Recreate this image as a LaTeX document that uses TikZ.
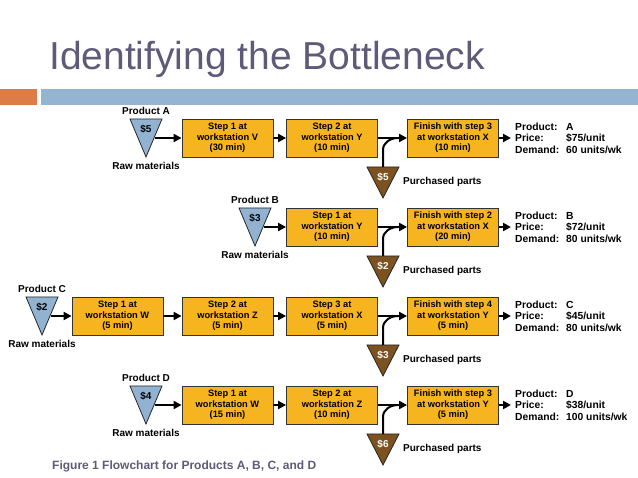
\documentclass[tikz,border=0pt]{standalone}
\usepackage{fontspec}
\setmainfont{Liberation Sans}
\usetikzlibrary{arrows.meta}
\definecolor{boxc}{HTML}{F6B420}
\definecolor{rawc}{HTML}{92B2D2}
\definecolor{partc}{HTML}{7B5220}
\definecolor{titlec}{HTML}{5E5A78}
\definecolor{barb}{HTML}{94B4D2}
\definecolor{baro}{HTML}{DD7C47}
\begin{document}
\begin{tikzpicture}[x=1pt,y=-1pt,
  stepbox/.style={draw=black!80,line width=0.8pt,fill=boxc,minimum width=91pt,minimum height=38pt,inner sep=0pt,align=center,font=\bfseries\fontsize{9.3}{10.5}\selectfont},
  lbl/.style={font=\bfseries\fontsize{10}{11}\selectfont,inner sep=0pt},
  outl/.style={font=\bfseries\fontsize{10.3}{11.5}\selectfont,inner sep=0pt,anchor=base west},
  arr/.style={-{Triangle[length=8pt,width=8pt]},line width=2pt},
  rawtri/.style={draw=black!85,line width=0.8pt,fill=rawc},
  parttri/.style={draw=black!85,line width=0.8pt,fill=partc}]
\useasboundingbox (0,0) rectangle (638,478);
\node[anchor=base west,text=titlec,font=\fontsize{39}{42}\selectfont,inner sep=0pt] (title) at (49,70) {Identifying the Bottleneck};
\fill[baro] (0,89) rectangle (37,105);
\fill[barb] (41,89) rectangle (638,105);
\tikzset{raw/.pic={\draw[rawtri] (-16,-19) -- (16,-19) -- (0,19) -- cycle;},
  part/.pic={\draw[parttri] (-16,-15) -- (16,-15) -- (0,16) -- cycle;}}
\foreach \r/\y/\rx/\rv/\pn/\pv/\ov/\price/\dem in
 {A/138/146/5/5/5/A/75/60, B/227/255/3/2/2/B/72/80, C/316/42/2/3/3/C/45/80, D/405/146/4/6/6/D/38/100}{
  \pic at (\rx,\y) {raw};
  \node[lbl] (raw\r) at (\rx,\y-9) {\$\rv};
  \node[lbl] (pl\r) at (\rx,\y-27) {Product \r};
  \node[lbl] (rm\r) at (\rx,\y+28) {Raw materials};
  \pic at (383,\y+44) {part};
  \node[lbl,text=white] (part\r) at (383,\y+39) {\$\pv};
  \node[lbl,anchor=west] (pp\r) at (403,\y+44) {Purchased parts};
  \coordinate (pt\r) at (383,\y+29);
  \node[outl] (outP\r) at (515,\y-7.5) {Product:};
  \node[outl] (outR\r) at (515,\y+4) {Price:};
  \node[outl] (outD\r) at (515,\y+15.5) {Demand:};
  \node[outl] (valP\r) at (566,\y-7.5) {\ov};
  \node[outl] (valR\r) at (566,\y+4) {\$\price/unit};
  \node[outl] (valD\r) at (566,\y+15.5) {\dem\ units/wk};
  \coordinate (oe\r) at (511,\y);
}
\node[stepbox] (a1) at (227.5,138) {Step 1 at\\workstation V\\(30 min)};
\node[stepbox] (a2) at (332,138) {Step 2 at\\workstation Y\\(10 min)};
\node[stepbox] (a3) at (453,138) {Finish with step 3\\at workstation X\\(10 min)};
\node[stepbox] (b1) at (332,227) {Step 1 at\\workstation Y\\(10 min)};
\node[stepbox] (b2) at (453,227) {Finish with step 2\\at workstation X\\(20 min)};
\node[stepbox] (c1) at (117.5,316) {Step 1 at\\workstation W\\(5 min)};
\node[stepbox] (c2) at (227.5,316) {Step 2 at\\workstation Z\\(5 min)};
\node[stepbox] (c3) at (332,316) {Step 3 at\\workstation X\\(5 min)};
\node[stepbox] (c4) at (453,316) {Finish with step 4\\at workstation Y\\(5 min)};
\node[stepbox] (d1) at (227.5,405) {Step 1 at\\workstation W\\(15 min)};
\node[stepbox] (d2) at (332,405) {Step 2 at\\workstation Z\\(10 min)};
\node[stepbox] (d3) at (453,405) {Finish with step 3\\at workstation Y\\(5 min)};
\draw[arr] (155,138) -- (a1); \draw[arr] (a1) -- (a2); \draw[arr] (a2) -- (a3); \draw[arr] (a3) -- (oeA);
\draw[arr] (264,227) -- (b1); \draw[arr] (b1) -- (b2); \draw[arr] (b2) -- (oeB);
\draw[arr] (51,316) -- (c1); \draw[arr] (c1) -- (c2); \draw[arr] (c2) -- (c3); \draw[arr] (c3) -- (c4); \draw[arr] (c4) -- (oeC);
\draw[arr] (155,405) -- (d1); \draw[arr] (d1) -- (d2); \draw[arr] (d2) -- (d3); \draw[arr] (d3) -- (oeD);
\foreach \r/\y in {A/138,B/227,C/316,D/405}
  \draw[line width=2pt] (pt\r) -- (383,\y+12) to[out=90,in=180] (398,\y);
\node[anchor=base west,text=titlec,font=\bfseries\fontsize{12}{14}\selectfont,inner sep=0pt] (cap) at (52,470) {Figure 1 Flowchart for Products A, B, C, and D};
\end{tikzpicture}
\end{document}
